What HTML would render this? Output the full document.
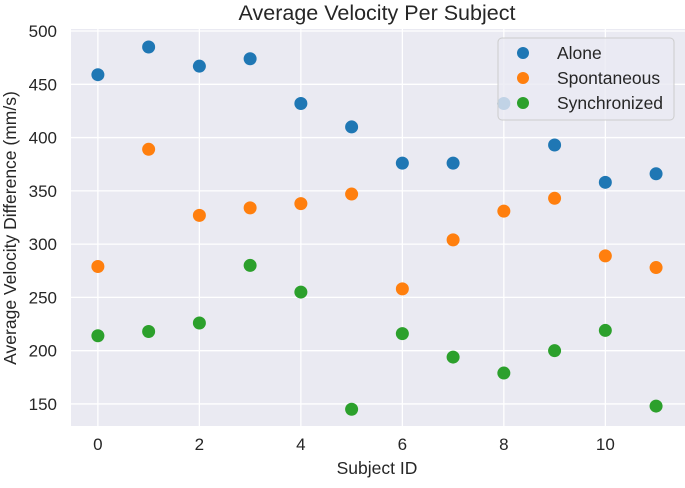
<!DOCTYPE html>
<html><head><meta charset="utf-8"><style>
body{margin:0;background:#fff;font-family:"Liberation Sans","DejaVu Sans",sans-serif}
</style></head><body>
<svg id="chart" width="685" height="483" xmlns="http://www.w3.org/2000/svg" font-family="Liberation Sans, DejaVu Sans, sans-serif">
<rect x="71" y="29" width="614" height="397" fill="#eaeaf2"/>
<g id="grid"></g><g id="ticks"></g><g id="marks"></g>
<text x="377" y="20" text-anchor="middle" font-size="21.5" fill="#262626">Average Velocity Per Subject</text>
<text x="377" y="474" text-anchor="middle" font-size="17.5" fill="#262626">Subject ID</text>
<text transform="translate(16,228) rotate(-90)" text-anchor="middle" font-size="17.5" fill="#262626">Average Velocity Difference (mm/s)</text>
<g>
<rect x="498" y="38" width="176" height="82" rx="4" fill="#eaeaf2" fill-opacity="0.8" stroke="#cccccc"/>
<circle cx="523" cy="53" r="6" fill="#1f77b4"/>
<text x="557" y="59" font-size="17.5" fill="#262626">Alone</text>
<circle cx="523" cy="78" r="6" fill="#ff7f0e"/>
<text x="557" y="84" font-size="17.5" fill="#262626">Spontaneous</text>
<circle cx="523" cy="103" r="6" fill="#2ca02c"/>
<text x="557" y="109" font-size="17.5" fill="#262626">Synchronized</text>
</g>
</svg>
<script>
const subjects=[0,1,2,3,4,5,6,7,8,9,10,11];
const alone=[459,485,467,474,432,410,376,376,432,393,358,366];
const spontaneous=[279,389,327,334,338,347,258,304,331,343,289,278];
const synchronized=[214,218,226,280,255,145,216,194,179,200,219,148];
const xTicks=[0,2,4,6,8,10];
const yTicks=[150,200,250,300,350,400,450,500];
const NS="http://www.w3.org/2000/svg";
const L=71,R=685,T=29,B=426,xmin=-0.53,xmax=11.57,ymin=129.3,ymax=501.9;
function sx(v){return L+(v-xmin)/(xmax-xmin)*(R-L);}
function sy(v){return B-(v-ymin)/(ymax-ymin)*(B-T);}
function mk(tag,attrs,parent){const e=document.createElementNS(NS,tag);for(const k in attrs)e.setAttribute(k,attrs[k]);parent.appendChild(e);return e;}
const grid=document.getElementById('grid'),ticks=document.getElementById('ticks'),marks=document.getElementById('marks');
xTicks.forEach(t=>{
 const g=mk('line',{x1:sx(t),x2:sx(t),y1:T,y2:B,stroke:'#fff','stroke-width':1.3},grid);
 
 
 const l=mk('text',{x:sx(t),y:B+24,'text-anchor':'middle','font-size':17,fill:'#262626'},ticks);l.textContent=t;
 
 
});
yTicks.forEach(t=>{
 const g=mk('line',{x1:L,x2:R,y1:sy(t),y2:sy(t),stroke:'#fff','stroke-width':1.3},grid);
 
 
 const l=mk('text',{x:L-14,y:sy(t)+6,'text-anchor':'end','font-size':17,fill:'#262626'},ticks);l.textContent=t;
 
 
});
[[alone,'#1f77b4','alone'],[spontaneous,'#ff7f0e','spontaneous'],[synchronized,'#2ca02c','synchronized']].forEach(([arr,c,n])=>{
 arr.forEach((v,i)=>{
  const p=mk('circle',{cx:sx(subjects[i]),cy:sy(v),r:6.5,fill:c},marks);
  
  
 });
});
</script>
</body></html>
